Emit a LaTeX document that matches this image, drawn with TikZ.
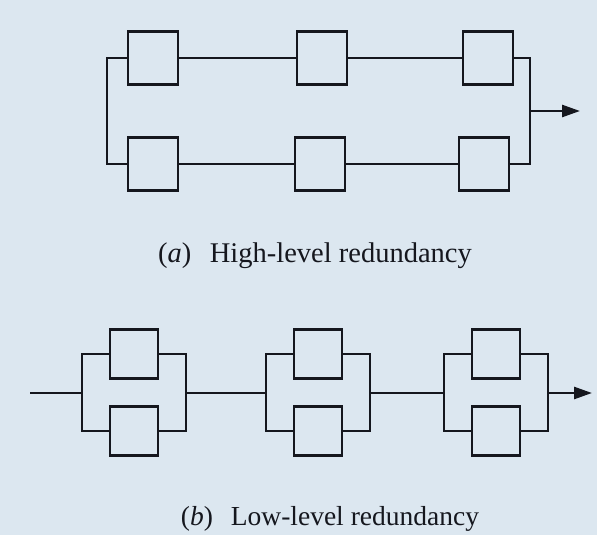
\documentclass[tikz,border=0pt]{standalone}
\usepackage{fontspec}
\setmainfont{Liberation Serif}
\usetikzlibrary{arrows.meta}
\definecolor{paper}{HTML}{DCE7F0}
\definecolor{ink}{HTML}{15171E}
\begin{document}
\begin{tikzpicture}[x=1pt,y=-1pt,
  blocka/.style={draw=ink, line width=2.6pt, minimum width=50pt, minimum height=53pt, inner sep=0pt},
  blockb/.style={draw=ink, line width=2.6pt, minimum width=48pt, minimum height=49pt, inner sep=0pt},
  wire/.style={draw=ink, line width=2.6pt},
  arrowwire/.style={wire, -{Triangle[length=18pt,width=12pt]}},
  caption/.style={text=ink, inner sep=0pt, anchor=base}
]
\fill[paper] (0,0) rectangle (597,535);
\useasboundingbox (0,0) rectangle (597,535);

% (a) high-level redundancy
\node[blocka] (a1) at (153,58) {};
\node[blocka] (a2) at (322,58) {};
\node[blocka] (a3) at (488,58) {};
\node[blocka] (b1) at (153,164) {};
\node[blocka] (b2) at (320,164) {};
\node[blocka] (b3) at (484,164) {};
\coordinate (lv) at (107,111);
\coordinate (rv) at (530,111);
\coordinate (outa) at (580,111);
\draw[wire] (a1) -- (a2);
\draw[wire] (a2) -- (a3);
\draw[wire] (b1) -- (b2);
\draw[wire] (b2) -- (b3);
\draw[wire] (a1.west) -| (lv) |- (b1.west);
\draw[wire] (a3.east) -| (rv) |- (b3.east);
\draw[arrowwire] (rv) -- (outa);
\node[caption, font=\fontsize{28.5}{32}\selectfont] (capa) at (315,262) {(\textit{a})\hspace{0.4em} High-level redundancy};

% (b) low-level redundancy
\coordinate (inb) at (30,393);
\foreach \i/\cx in {1/134,2/318,3/496}{
  \node[blockb] (t\i) at (\cx,354) {};
  \node[blockb] (u\i) at (\cx,431) {};
  \coordinate (l\i) at (\cx-52,393);
  \coordinate (r\i) at (\cx+52,393);
  \draw[wire] (t\i.west) -| (l\i) |- (u\i.west);
  \draw[wire] (t\i.east) -| (r\i) |- (u\i.east);
}
\coordinate (outb) at (592,393);
\draw[wire] (inb) -- (l1);
\draw[wire] (r1) -- (l2);
\draw[wire] (r2) -- (l3);
\draw[arrowwire] (r3) -- (outb);
\node[caption, font=\fontsize{27.5}{31}\selectfont] (capb) at (330,525) {(\textit{b})\hspace{0.4em} Low-level redundancy};
\end{tikzpicture}
\end{document}
